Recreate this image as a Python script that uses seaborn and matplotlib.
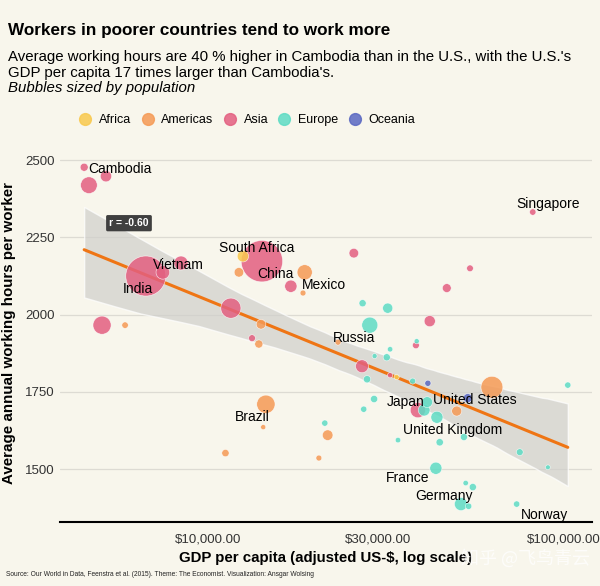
import numpy as np
import pandas as pd
import matplotlib
matplotlib.use("Agg")
import matplotlib.pyplot as plt
from matplotlib.lines import Line2D
from matplotlib.ticker import FixedLocator, NullLocator
import seaborn as sns

# Werte (BIP pro Kopf, Arbeitsstunden, Bevölkerung in Mio.)
country = ["Cambodia", "", "", "", "India", "Vietnam", "", "", "China", "", "", "", "", "",
           "Singapore", "", "", "", "Japan", "",
           "", "", "Mexico", "", "", "", "", "Brazil", "", "", "United States", "", "", "",
           "South Africa", "",
           "", "",
           "Russia", "", "", "", "", "", "", "", "", "", "", "", "", "", "United Kingdom",
           "", "", "", "", "", "France", "", "", "Germany", "", "Norway", ""]
continent = (["Asia"] * 20 + ["Americas"] * 14 + ["Africa"] * 2 + ["Oceania"] * 2
             + ["Europe"] * 27)
gdp = [4490, 4630, 5170, 5040, 6690, 7470, 8400, 11600, 14180, 17100, 25700, 54500, 46900, 42000,
       81800, 27100, 13300, 38400, 38900, 32500,
       5850, 12220, 18700, 18500, 14100, 13900, 23200, 14550, 14300, 11200, 62800, 50000, 21700, 20500,
       12540, 33900,
       41500, 53700,
       28500, 27200, 32000, 32500, 31800, 29400, 28000, 29300, 27400, 21300, 34200, 37600, 41300,
       40500, 44000, 52400, 44800, 75200, 90200, 102600, 43700, 53000, 55500, 51400, 54000, 73700,
       38600]
hours = [2477, 2419, 2448, 1966, 2125, 2137, 2167, 2021, 2173, 2092, 2199, 2150, 2086, 1979,
         2332, 1833, 1924, 1901, 1691, 1804,
         1966, 2137, 2137, 2070, 1969, 1905, 1911, 1710, 1636, 1552, 1765, 1688, 1610, 1536,
         2189, 1798,
         1778, 1730,
         1966, 2037, 2021, 1888, 1862, 1866, 1791, 1727, 1694, 1649, 1594, 1785, 1717,
         1691, 1668, 1604, 1587, 1555, 1506, 1772, 1503, 1455, 1442, 1387, 1380, 1387,
         1914]
pop = [16, 160, 53, 200, 1300, 93, 100, 260, 1400, 68, 31, 7, 23, 51,
       5.6, 80, 8, 8, 127, 1.5,
       6, 30, 125, 3.5, 32, 17, 4, 205, 1.3, 11, 320, 36, 43, 3.5,
       55, 1.3,
       4.7, 24,
       145, 10, 38, 2, 10, 1, 11, 10, 5, 5, 2, 4, 46,
       60, 65, 9, 11, 8, 0.6, 5, 66, 2, 10, 82, 5.7, 5.2,
       1.3]

continents = ["Africa", "Americas", "Asia", "Europe", "Oceania"]
farben = ["#F8C94E", "#F59A55", "#E35F80", "#5EDCC4", "#5A68C2"]

df = pd.DataFrame({"country": country, "continent": continent, "gdp": gdp,
                   "hours": hours, "pop": pop})

bg = "#F8F6EC"
sns.set_theme(style="white")
plt.rcParams["font.family"] = ["Liberation Sans", "DejaVu Sans"]
plt.rcParams["text.color"] = "black"

fig = plt.figure(figsize=(6.0, 5.86), dpi=100, facecolor=bg)
ax = fig.add_axes([60 / 600, 1 - 522 / 586, 532 / 600, 377 / 586])
ax.set_facecolor(bg)
ax.set_xscale("log")

# Blasengröße ~ Wurzel der Bevölkerung (wie ggplot scale_size)
groessen = {p: (1.44 * (2 + 0.5 * np.sqrt(p))) ** 2 for p in df["pop"].unique()}

sns.regplot(data=df, x="gdp", y="hours", logx=True, scatter=False, ax=ax, seed=3,
            color="#EF7514", line_kws={"linewidth": 2.2})
for coll in ax.collections:
    coll.set_facecolor("#CFCFCB")
    coll.set_alpha(0.7)

sns.scatterplot(data=df.sort_values("pop", ascending=False), x="gdp", y="hours",
                hue="continent", hue_order=continents, palette=farben,
                size="pop", sizes=groessen, alpha=0.85, edgecolor="white", linewidth=0.4,
                legend=False, ax=ax, zorder=3)

# Beschriftungen (Versatz in Punkten)
versatz = {"Cambodia": (3, -1, "left"), "Vietnam": (11, 5, "center"), "India": (-6, -9, "center"),
           "South Africa": (10, 6, "center"), "China": (10, -9, "center"),
           "Mexico": (14, -9, "center"), "Singapore": (11, 6, "center"),
           "Russia": (-11, -9, "center"), "Japan": (-9, 6, "center"),
           "United States": (-12, -9, "center"), "United Kingdom": (11, -9, "center"),
           "Brazil": (-10, -9, "center"), "France": (-20, -7, "center"),
           "Germany": (-12, 6, "center"), "Norway": (20, -8, "center")}
for _, row in df[df["country"] != ""].iterrows():
    dx, dy, ha = versatz[row["country"]]
    ax.annotate(row["country"], (row["gdp"], row["hours"]), xytext=(dx, dy),
                textcoords="offset points", ha=ha, va="center", fontsize=10,
                color="black", zorder=5)

ax.text(6000, 2296, "r = -0.60", fontsize=7.5, fontweight="bold", color="white",
        ha="center", va="center", zorder=6,
        bbox=dict(boxstyle="round,pad=0.3,rounding_size=0.15", fc="#3F3F3F", ec="none"))

ax.set_xlim(3840, 120000)
ax.set_ylim(1329, 2549)
ax.xaxis.set_major_locator(FixedLocator([10000, 30000, 100000]))
ax.xaxis.set_minor_locator(NullLocator())
ax.set_xticklabels(["$10,000.00", "$30,000.00", "$100,000.00"])
ax.set_yticks([1500, 1750, 2000, 2250, 2500])
ax.tick_params(axis="x", direction="out", length=5, width=1.2, color="black",
               labelsize=9.5, labelcolor="#333333", pad=3)
ax.tick_params(axis="y", length=0, labelsize=9.5, labelcolor="#333333", pad=4)
ax.grid(axis="y", color="#DDDBD3", linewidth=0.9)
ax.set_axisbelow(True)
for s in ["top", "right", "left"]:
    ax.spines[s].set_visible(False)
ax.spines["bottom"].set_color("black")
ax.spines["bottom"].set_linewidth(1.5)
ax.set_xlabel("GDP per capita (adjusted US-$, log scale)", fontsize=10.8,
              fontweight="bold", color="black", labelpad=4)
ax.set_ylabel("Average annual working hours per worker", fontsize=10.9,
              fontweight="bold", color="black", labelpad=6)

fig.text(8 / 600, 1 - 31 / 586, "Workers in poorer countries tend to work more",
         fontsize=12.3, fontweight="bold", va="center", ha="left")
fig.text(8 / 600, 1 - 57 / 586,
         "Average working hours are 40 % higher in Cambodia than in the U.S., with the U.S.'s",
         fontsize=10.8, va="center", ha="left")
fig.text(8 / 600, 1 - 73 / 586, "GDP per capita 17 times larger than Cambodia's.",
         fontsize=10.8, va="center", ha="left")
fig.text(8 / 600, 1 - 88 / 586, "Bubbles sized by population", fontsize=10.8,
         style="italic", va="center", ha="left")

handles = [Line2D([], [], marker="o", ls="", color=c, markersize=8.5, alpha=0.85)
           for c in farben]
fig.legend(handles, continents, loc="center left", bbox_to_anchor=(64 / 600, 1 - 120 / 586),
           ncol=5, frameon=False, fontsize=9, handletextpad=0.3, columnspacing=0.5,
           handlelength=1.6)

fig.text(6 / 600, 1 - 575 / 586,
         "Source: Our World in Data, Feenstra et al. (2015). Theme: The Economist. "
         "Visualization: Ansgar Wolsing", fontsize=4.8, va="center", ha="left", color="#222222")
fig.text(590 / 600, 1 - 558 / 586, "知乎 @飞鸟青云", fontsize=13, ha="right", va="center",
         color="white", alpha=0.75, family=["Noto Sans CJK SC", "DejaVu Sans"])

fig.savefig("out.png", dpi=100, facecolor=bg)
